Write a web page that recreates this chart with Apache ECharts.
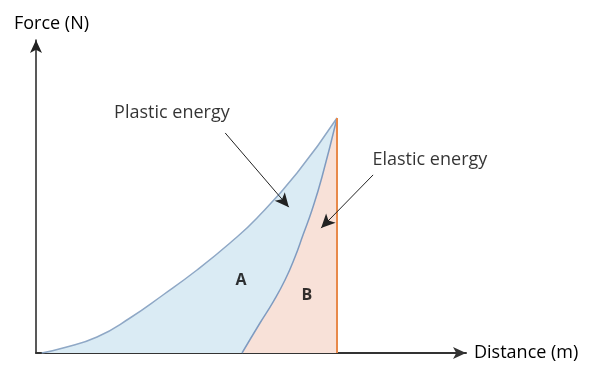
<!DOCTYPE html>
<html><head><meta charset="utf-8">
<script src="https://cdn.jsdelivr.net/npm/echarts@6/dist/echarts.min.js"></script>
<style>html,body{margin:0;padding:0;background:#fff}#c{width:600px;height:380px}</style>
</head><body><div id="c"></div>
<script>
// Loading curve (plastic + elastic)
const loadX = [1.33, 6.28, 14.19, 21.86, 29.53, 37.44, 45.12, 51.40, 60.70, 70.00];
const loadY = [0, 1.60, 5.11, 11.18, 18.53, 26.52, 35.14, 43.13, 57.51, 75.08];
// Unloading curve (elastic recovery)
const unloadX = [47.91, 52.09, 55.12, 57.91, 60.23, 62.09, 64.19, 66.51, 70.00];
const unloadY = [0, 9.58, 16.29, 23.32, 30.67, 37.70, 45.69, 56.23, 75.08];
// Maximum load line
const peakX = 70.0, peakY = 75.08;
// Annotations
const labels = [
  {name: 'Plastic energy', x: 31.6, y: 76.7, bold: false},
  {name: 'Elastic energy', x: 91.6, y: 61.7, bold: false},
  {name: 'A', x: 47.7, y: 23.3, bold: true},
  {name: 'B', x: 63.0, y: 18.5, bold: true}
];
const arrows = [
  [[44.0, 70.3], [58.8, 46.6]],
  [[78.4, 56.9], [66.3, 39.9]]
];
const xName = 'Distance (m)', yName = 'Force (N)';

const FONT = 'Open Sans';
const zip = (a, b) => a.map((v, i) => [v, b[i]]);
const chart = echarts.init(document.getElementById('c'), null, {renderer: 'canvas'});
chart.setOption({
  animation: false,
  grid: {left: 36, right: 134, top: 40, bottom: 27, containLabel: false, outerBoundsMode: 'none'},
  xAxis: {
    type: 'value', min: 0, max: 100,
    name: xName, nameLocation: 'end', nameGap: 8,
    nameTextStyle: {fontFamily: FONT, fontSize: 18, color: '#000'},
    axisLine: {show: true, symbol: ['none', 'arrow'], symbolSize: [9, 13], lineStyle: {color: '#333', width: 2}},
    axisTick: {show: false}, axisLabel: {show: false}, splitLine: {show: false}
  },
  yAxis: {
    type: 'value', min: 0, max: 100,
    name: yName, nameLocation: 'end', nameGap: 7,
    nameTextStyle: {fontFamily: FONT, fontSize: 18, color: '#000', align: 'center', padding: [0, 0, 0, 31]},
    axisLine: {show: true, symbol: ['none', 'arrow'], symbolSize: [9, 13], lineStyle: {color: '#222', width: 1.5}},
    axisTick: {show: false}, axisLabel: {show: false}, splitLine: {show: false}
  },
  series: [
    {
      type: 'line', data: zip(loadX, loadY), smooth: 0.5, symbol: 'none',
      lineStyle: {color: '#8FA8C6', width: 1.5},
      areaStyle: {color: '#DAEBF4', opacity: 1}, z: 2
    },
    {
      type: 'line', data: zip(unloadX, unloadY), smooth: 0.5, symbol: 'none',
      lineStyle: {color: '#7F9BC0', width: 1.5},
      areaStyle: {color: '#F8E1D8', opacity: 1}, z: 3
    },
    {
      type: 'line', data: [[peakX, 0], [peakX, peakY]], symbol: 'none',
      lineStyle: {color: '#E8894A', width: 2}, z: 4,
      markLine: {
        silent: true, symbol: ['none', 'arrow'], symbolSize: [10, 14],
        lineStyle: {color: '#222', width: 1, type: 'solid'},
        label: {show: false},
        data: arrows.map(a => [{coord: a[0]}, {coord: a[1]}])
      }
    },
    {
      type: 'scatter', symbolSize: 0, z: 5,
      data: labels.map(l => ({name: l.name, value: [l.x, l.y],
        label: {show: true, position: 'inside', formatter: l.name, fontFamily: FONT,
          fontSize: l.bold ? 16 : 18, fontWeight: l.bold ? 'bold' : 'normal', color: '#000'}}))
    }
  ]
});
</script></body></html>
